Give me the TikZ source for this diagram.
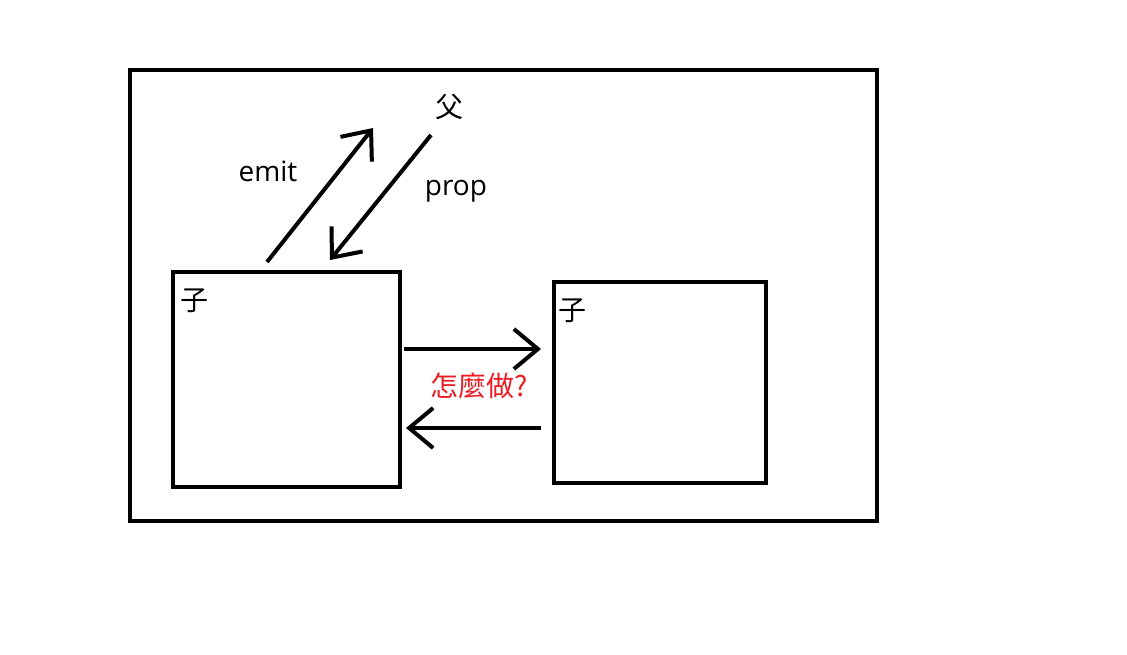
\documentclass[tikz,border=0pt]{standalone}
\usepackage{fontspec}
\setmainfont{Open Sans}
\newfontfamily\cjk{Noto Sans CJK TC}
\usetikzlibrary{arrows.meta}
\begin{document}
\begin{tikzpicture}[x=1pt,y=-1pt,
  box/.style={draw,line width=4pt},
  arr/.style={line width=4pt,-{Straight Barb[length=24pt,width=40pt,line width=4pt]}},
  lbl/.style={font=\fontsize{28}{30}\selectfont,inner sep=0pt}]
\useasboundingbox (0,0) rectangle (1127,655);
\draw[box] (130,70) rectangle (877,521);
\node[box,minimum width=227pt,minimum height=215pt,anchor=north west,inner sep=0pt] (L) at (171,270) {};
\node[box,minimum width=212pt,minimum height=201pt,anchor=north west,inner sep=0pt] (R) at (552,280) {};
\node[lbl] (f) at (449,107) {\cjk 父};
\node[lbl] (emit) at (268,171) {emit};
\node[lbl] (prop) at (456,191) {prop};
\node[lbl] (c1) at (194,301) {\cjk 子};
\node[lbl] (c2) at (572,311) {\cjk 子};
\node[lbl,text={rgb,255:red,237;green,28;blue,36}] (q) at (479,386) {\cjk 怎麼做?};
\coordinate (e1) at (267,262); \coordinate (e2) at (373,128);
\coordinate (p1) at (431,135); \coordinate (p2) at (330,260);
\coordinate (r1) at (404,349); \coordinate (r2) at (541,349);
\coordinate (l1) at (541,428); \coordinate (l2) at (406,428);
\draw[arr] (e1) -- (e2);
\draw[arr] (p1) -- (p2);
\draw[arr] (r1) -- (r2);
\draw[arr] (l1) -- (l2);
\end{tikzpicture}
\end{document}
